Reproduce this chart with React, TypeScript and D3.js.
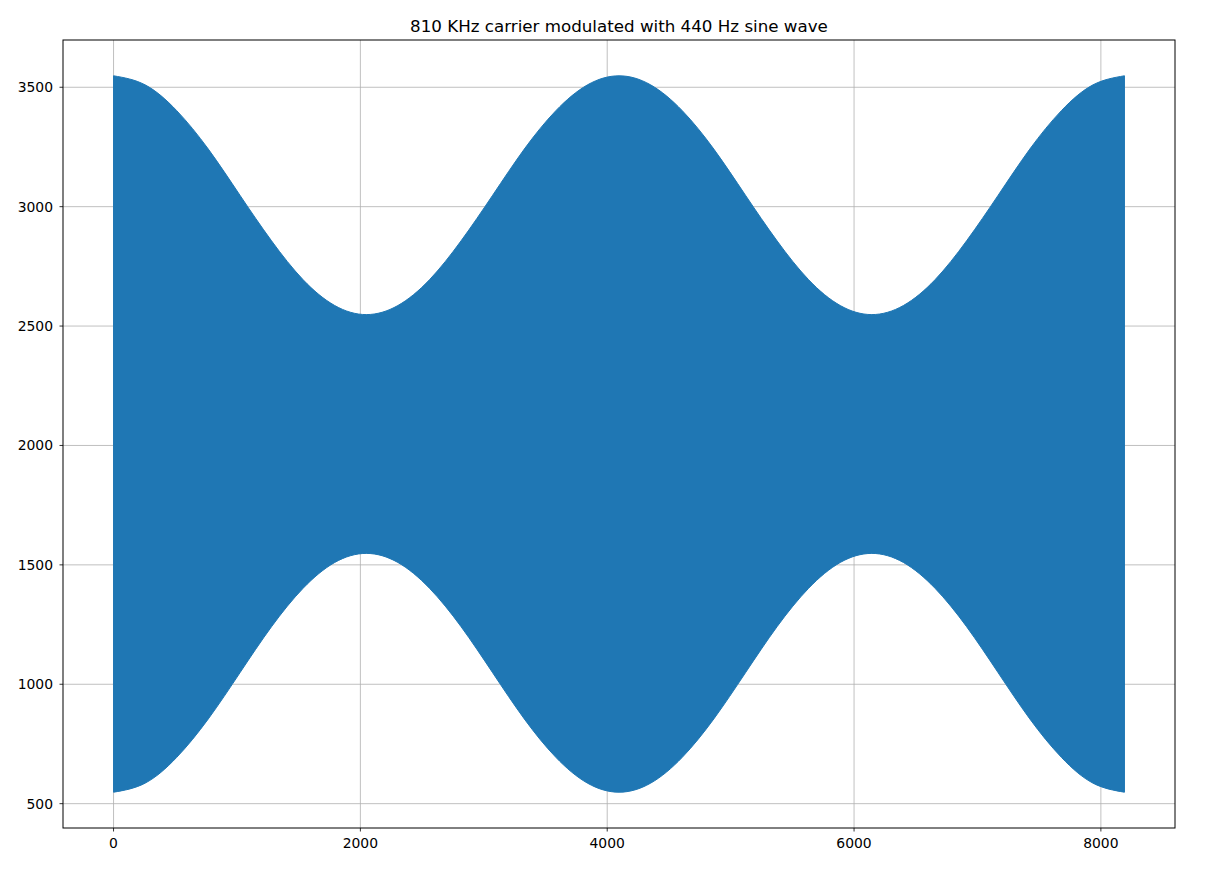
import React from "react";
import * as d3 from "d3";

const samplePositions = [
  0, 256, 512, 768, 1024, 1280, 1536, 1792, 2048, 2304, 2560, 2816, 3072, 3328, 3584, 3840,
  4096, 4352, 4608, 4864, 5120, 5376, 5632, 5888, 6144, 6400, 6656, 6912, 7168, 7424, 7680, 7936, 8191,
];
// Upper envelope (peak values)
const upperEnvelope = [
  3548, 3510, 3402, 3241, 3048, 2857, 2694, 2586, 2548, 2586, 2694, 2857, 3048, 3241, 3402, 3510,
  3548, 3510, 3402, 3241, 3048, 2857, 2694, 2586, 2548, 2586, 2694, 2857, 3048, 3241, 3402, 3510, 3548,
];
// Lower envelope (trough values)
const lowerEnvelope = [
  548, 586, 694, 855, 1048, 1241, 1402, 1510, 1548, 1510, 1402, 1241, 1048, 855, 694, 586,
  548, 586, 694, 855, 1048, 1241, 1402, 1510, 1548, 1510, 1402, 1241, 1048, 855, 694, 586, 548,
];
const xTicks = [0, 2000, 4000, 6000, 8000];
const yTicks = [500, 1000, 1500, 2000, 2500, 3000, 3500];
const title = "810 KHz carrier modulated with 440 Hz sine wave";

export default function App() {
  const W = 1205, H = 876;
  const left = 63, right = 1175, top = 40, bottom = 828;
  const x = d3.scaleLinear().domain([-409.55, 8600.55]).range([left, right]);
  const y = d3.scaleLinear().domain([398.1, 3697.9]).range([bottom, top]);

  const pts = samplePositions.map((s, i) => ({ s, hi: upperEnvelope[i], lo: lowerEnvelope[i] }));
  const upper = d3
    .line<{ s: number; hi: number; lo: number }>()
    .x((d) => x(d.s))
    .y((d) => y(d.hi))
    .curve(d3.curveNatural);
  const lowerRev = d3
    .line<{ s: number; hi: number; lo: number }>()
    .x((d) => x(d.s))
    .y((d) => y(d.lo))
    .curve(d3.curveNatural);
  const top1 = upper(pts) || "";
  const bot1 = (lowerRev(pts.slice().reverse()) || "").replace(/^M/, "L");
  const d = top1 + bot1 + "Z";

  const font = "'DejaVu Sans', sans-serif";
  return (
    <svg
      width={W}
      height={H}
      style={{ position: "absolute", left: 0, top: 0, background: "#fff" }}
    >
      <rect x={0} y={0} width={W} height={H} fill="#fff" />
      <text x={(left + right) / 2} y={32} textAnchor="middle" fontFamily={font} fontSize={16.7} fill="#000">
        {title}
      </text>
      {/* grid */}
      {xTicks.map((t) => (
        <line key={"gx" + t} x1={x(t)} x2={x(t)} y1={top} y2={bottom} stroke="#b0b0b0" strokeWidth={0.8} />
      ))}
      {yTicks.map((t) => (
        <line key={"gy" + t} x1={left} x2={right} y1={y(t)} y2={y(t)} stroke="#b0b0b0" strokeWidth={0.8} />
      ))}
      {/* signal band */}
      <path d={d} fill="#1f77b4" stroke="#1f77b4" strokeWidth={1} strokeLinejoin="round" />
      {/* frame */}
      <rect x={left} y={top} width={right - left} height={bottom - top} fill="none" stroke="#000" strokeWidth={1} />
      {/* ticks */}
      {xTicks.map((t) => (
        <g key={"tx" + t}>
          <line x1={x(t)} x2={x(t)} y1={bottom} y2={bottom + 3.5} stroke="#000" strokeWidth={0.8} />
          <text x={x(t)} y={bottom + 20} textAnchor="middle" fontFamily={font} fontSize={13.9} fill="#000">
            {t}
          </text>
        </g>
      ))}
      {yTicks.map((t) => (
        <g key={"ty" + t}>
          <line x1={left - 3.5} x2={left} y1={y(t)} y2={y(t)} stroke="#000" strokeWidth={0.8} />
          <text x={left - 10} y={y(t) + 5} textAnchor="end" fontFamily={font} fontSize={13.9} fill="#000">
            {t}
          </text>
        </g>
      ))}
    </svg>
  );
}
